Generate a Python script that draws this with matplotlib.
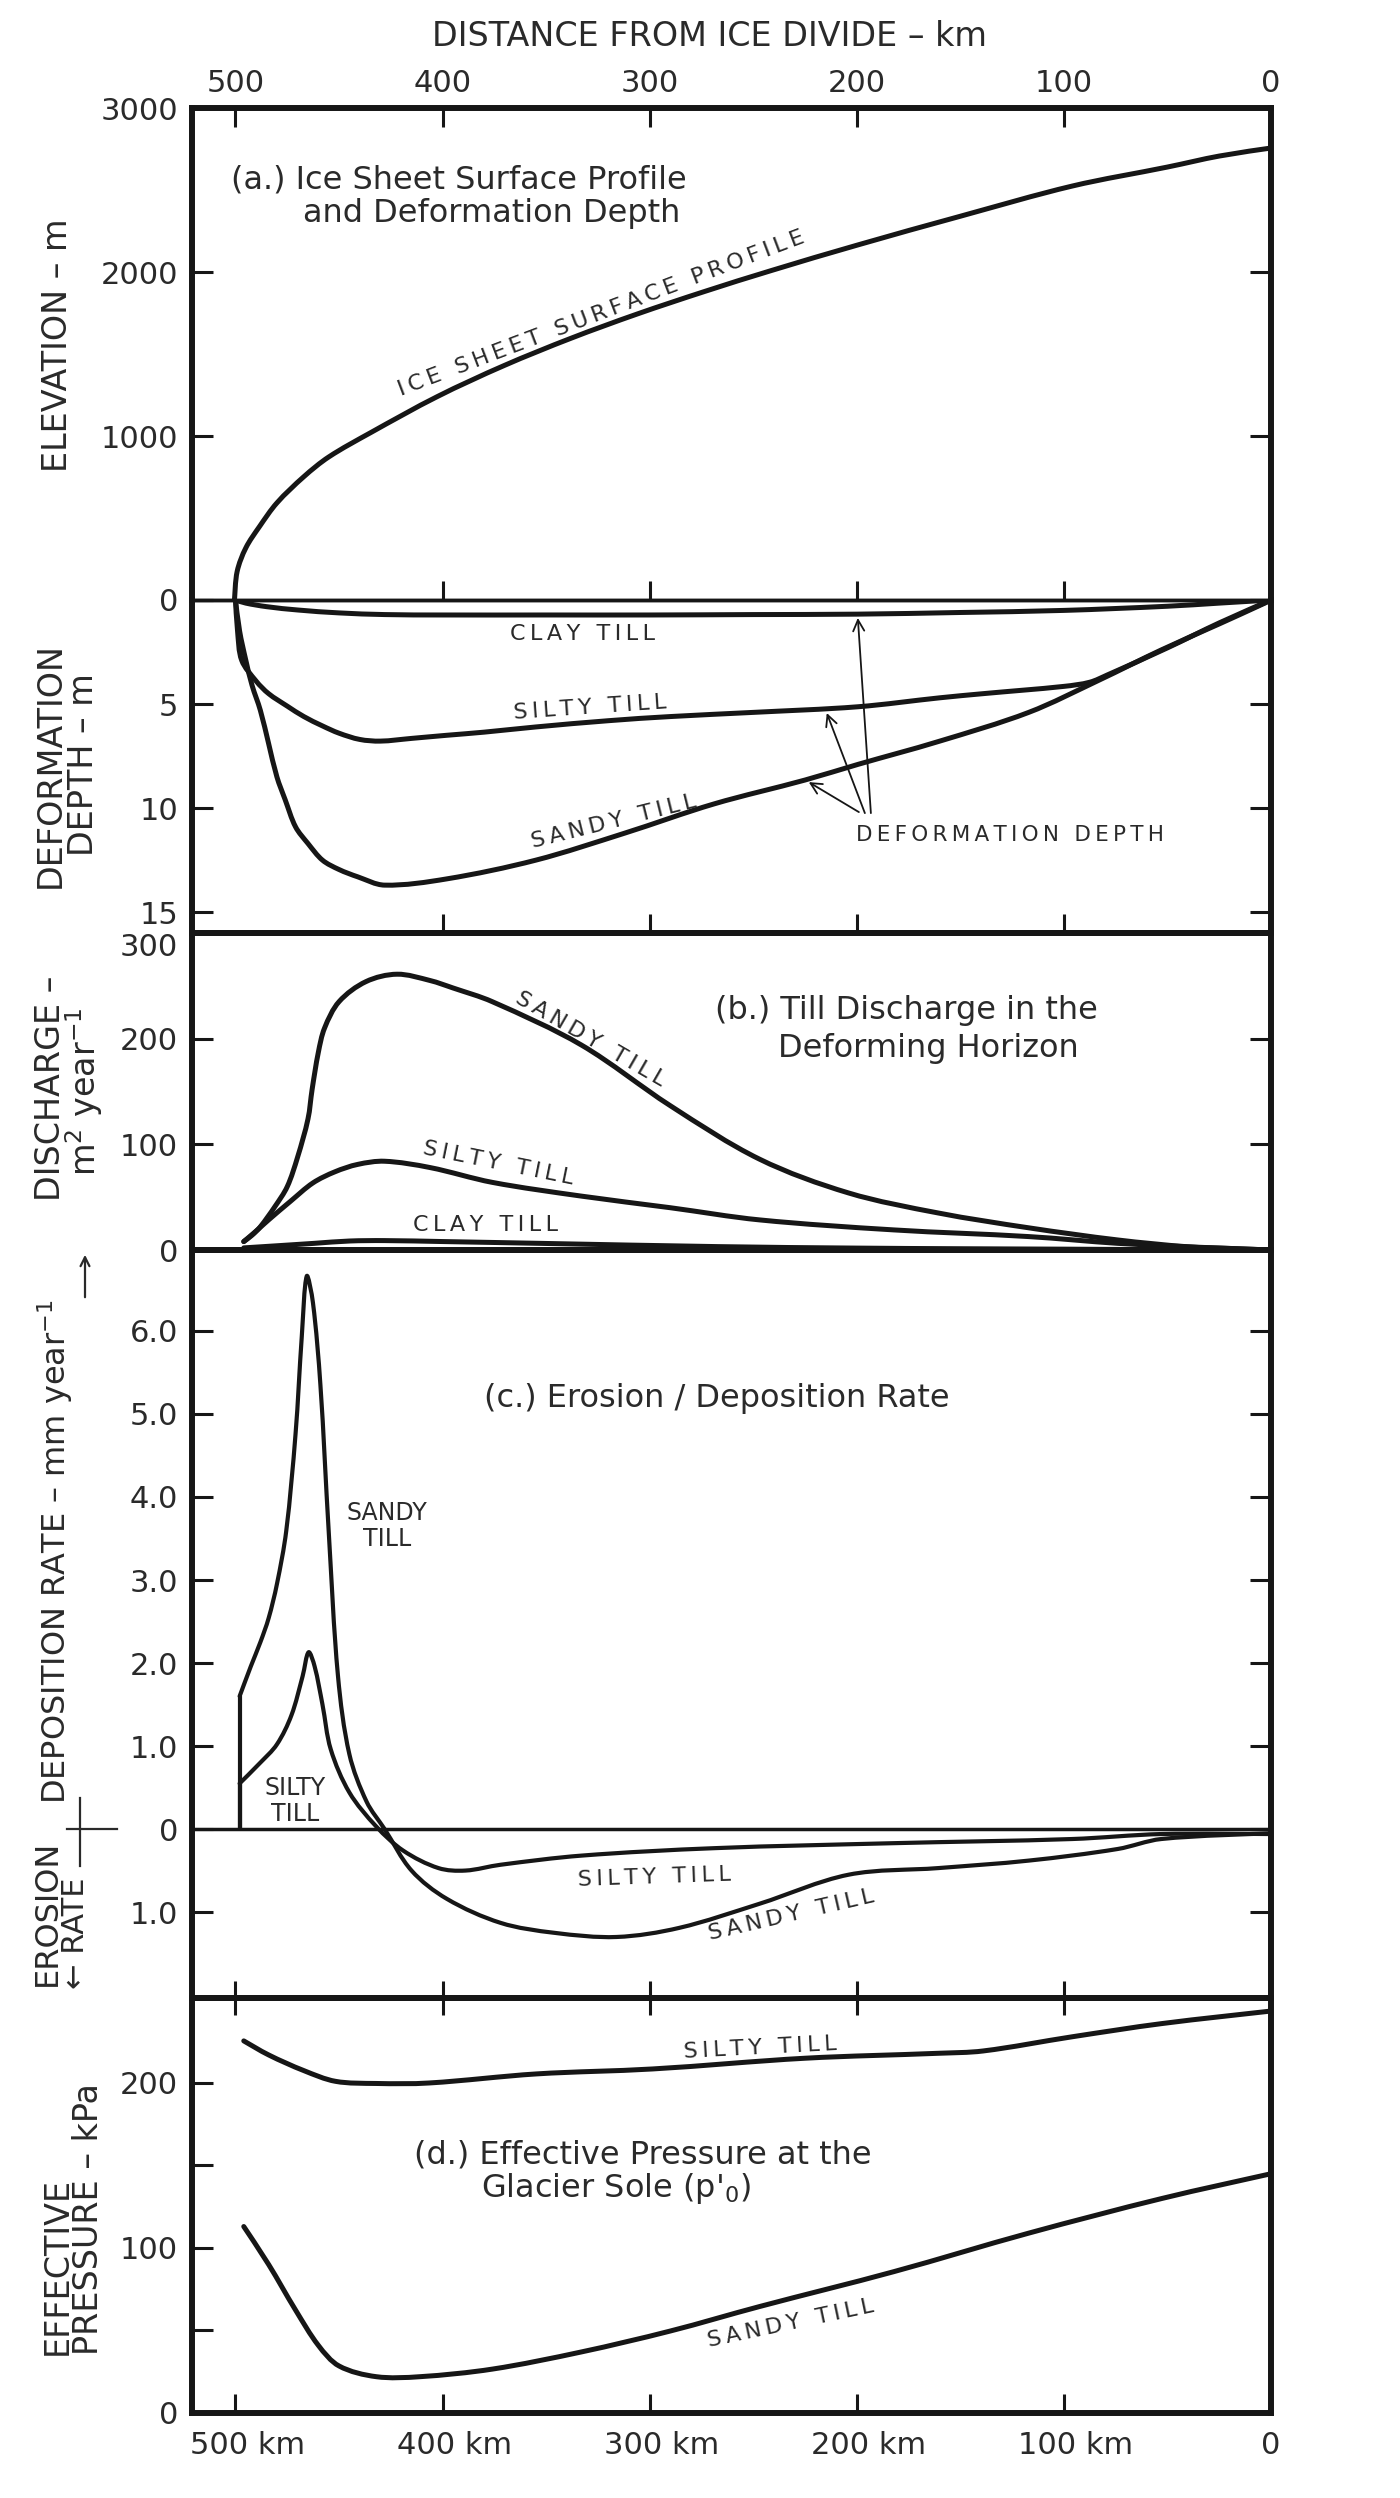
import matplotlib
matplotlib.use('Agg')
import matplotlib.pyplot as plt
from matplotlib.transforms import ScaledTranslation
from matplotlib.lines import Line2D
from matplotlib.patches import FancyArrowPatch, PathPatch
from matplotlib.path import Path

plt.rcParams['font.family'] = ['DejaVu Sans']
plt.rcParams['mathtext.default'] = 'regular'

W, H, DPI = 1400, 2498, 100

# ---------------- data ----------------
# (a) ice sheet surface profile (km from divide, elevation m)
profile_km = [0, 25, 50, 96, 150, 199.5, 241.5, 273.8, 306, 338, 370.4, 402.6, 434.8, 455, 467, 480, 488.4, 495, 499.2, 500.5]
profile_elev = [2756, 2707, 2640, 2524, 2340, 2165, 2008, 1880, 1744, 1596, 1429, 1240, 1020, 872, 752, 592, 448, 318, 174, 0]

# (a) deformation depth (m)
clay_depth_km = [0, 25, 50, 100, 150, 200, 250, 300, 350, 400, 428, 450, 470, 485, 495, 500]
clay_depth = [0, 0.15, 0.3, 0.5, 0.6, 0.68, 0.7, 0.72, 0.72, 0.72, 0.7, 0.62, 0.48, 0.32, 0.15, 0]
silty_depth_km = [0, 25, 50, 79, 87.5, 100, 139, 160, 199.5, 250, 290, 320, 355, 380, 398, 415, 430, 440, 450, 458, 467, 475, 484, 490, 497, 499, 500]
silty_depth = [0, 1.1, 2.3, 3.6, 3.95, 4.15, 4.5, 4.7, 5.13, 5.4, 5.6, 5.8, 6.1, 6.35, 6.5, 6.65, 6.78, 6.7, 6.4, 6.05, 5.6, 5.1, 4.5, 3.9, 2.9, 1.5, 0]
sandy_depth_km = [0, 3, 25, 53, 83, 117, 160.6, 199.5, 225, 269, 312, 355, 398, 428, 441, 450, 458, 465, 471, 476, 480, 484, 488, 492, 495, 498, 500]
sandy_depth = [0, 0.15, 1.15, 2.4, 3.85, 5.4, 6.8, 7.9, 8.65, 9.8, 11.2, 12.5, 13.4, 13.7, 13.3, 12.95, 12.5, 11.7, 10.9, 9.6, 8.5, 6.9, 5.3, 4.1, 2.9, 1.5, 0]

# (b) till discharge (m2 / year)
sandy_q_km = [0, 20, 40, 74, 117, 160.6, 204, 247, 290, 333, 376, 395, 406, 422, 437, 450, 457, 460, 463, 465, 470, 475, 481, 488, 492, 496]
sandy_q = [0, 1.5, 3, 9.5, 21, 35, 54, 86, 136.5, 194, 235, 248, 255, 261, 254, 235, 210, 187, 152, 124, 88, 60, 41, 22, 14, 8]
silty_q_km = [0, 40, 74, 117, 182, 247, 290, 333, 376, 406, 428, 441, 452, 462.6, 473.5, 484, 490, 496]
silty_q = [0, 3, 6.3, 12.7, 19, 28.5, 40, 51, 64, 78, 84, 81, 74, 63.5, 46, 28.5, 18, 8]
clay_q_km = [0, 50, 100, 150, 200, 267, 353, 400, 428, 445, 462, 480, 496]
clay_q = [0, 0.3, 0.8, 1.2, 1.8, 3.2, 6.3, 8, 8.9, 8.5, 6.3, 4, 2]

# (c) erosion (-) / deposition (+) rate (mm / year)
sandy_rate_km = [0, 53, 74, 117, 160.6, 204, 247, 285.7, 316, 346, 372, 398, 415, 428, 436.7, 445, 450.5, 455, 459, 462.6, 465.6, 468, 471, 475.5, 480, 484, 488, 492.6, 498, 498]
sandy_rate = [-0.05, -0.12, -0.24, -0.38, -0.47, -0.55, -0.9, -1.19, -1.30, -1.25, -1.13, -0.84, -0.5, 0, 0.33, 0.9, 1.84, 3.59, 5.35, 6.34, 6.66, 5.93, 4.76, 3.59, 2.95, 2.54, 2.25, 1.96, 1.6, 0]
silty_rate_km = [0, 53, 96, 182, 268.6, 333, 372, 389, 402, 419, 432, 445, 454, 458, 461.8, 464.7, 467.6, 473, 480, 488.4, 498, 498]
silty_rate = [-0.06, -0.06, -0.12, -0.17, -0.23, -0.32, -0.43, -0.5, -0.47, -0.26, 0.03, 0.44, 0.96, 1.5, 1.96, 2.13, 1.84, 1.37, 1.02, 0.79, 0.55, 0]

# (d) effective pressure (kPa)
silty_p_km = [0, 52.7, 96, 139, 160.6, 225, 298.6, 354.6, 406.5, 432, 451.7, 467, 484, 496]
silty_p = [243.6, 236, 228, 219.4, 218, 215, 208.5, 205.5, 200, 199.7, 201, 207.5, 217, 225.5]
sandy_p_km = [0, 52.7, 117, 182, 247, 290, 333, 376, 411, 432, 450, 460, 471, 484, 496]
sandy_p = [145, 130, 109, 85.7, 64.5, 49.7, 37, 26.6, 22, 22, 28.5, 41, 62.4, 90, 113]

# ticks / labels
x_ticks = [500, 400, 300, 200, 100, 0]
top_labels = ['500', '400', '300', '200', '100', '0']
bottom_labels = ['500 km', '400 km', '300 km', '200 km', '100 km', '0']
elev_ticks = [0, 1000, 2000, 3000]
elev_labels = ['', '1000', '2000', '3000']
depth_ticks = [0, 5, 10, 15]
depth_labels = ['0', '5', '10', '15']
q_ticks = [0, 100, 200, 300]
q_labels = ['0', '100', '200', '']
rate_ticks = [-1, 0, 1, 2, 3, 4, 5, 6]
rate_labels = ['1.0', '0', '1.0', '2.0', '3.0', '4.0', '5.0', '6.0']
p_ticks = [0, 50, 100, 150, 200]
p_labels = ['0', '', '100', '', '200']

# ---------------- style ----------------
LC = '#161616'
TC = '#2a2a2a'
FRAME = 4.3
TICK_FS = 22
AX_FS = 24

fig = plt.figure(figsize=(W / DPI, H / DPI), dpi=DPI)
fig.patch.set_facecolor('white')

L, R = 192, 1271


def add_axes(top, bottom):
    ax = fig.add_axes([L / W, 1 - bottom / H, (R - L) / W, (bottom - top) / H])
    ax.set_facecolor('none')
    ax.set_xlim(521, 0)
    for s in ax.spines.values():
        s.set_linewidth(FRAME)
        s.set_color(LC)
    ax.tick_params(which='both', color=LC, width=2.2, labelsize=TICK_FS, labelcolor=TC)
    return ax


def ftext(px, py, s, **kw):
    kw.setdefault('color', TC)
    return fig.text(px / W, 1 - py / H, s, **kw)


def spaced(s):
    return '\u2009'.join(list(s))


def smooth_line(ax, xs, ys, lw=3.6):
    """Draw a smooth curve through the given points (Catmull-Rom as Bezier path)."""
    xs = list(xs)
    ys = list(ys)
    tail = None
    if len(xs) > 2 and xs[-1] == xs[-2]:
        tail = ([xs[-2], xs[-1]], [ys[-2], ys[-1]])
        xs, ys = xs[:-1], ys[:-1]
    pix = ax.transData.transform(list(zip(xs, ys)))
    n = len(xs)

    def dist(i, j):
        return max(((pix[i][0] - pix[j][0]) ** 2 + (pix[i][1] - pix[j][1]) ** 2) ** 0.5, 1e-6)

    verts = [(xs[0], ys[0])]
    codes = [Path.MOVETO]
    for i in range(n - 1):
        i0 = max(i - 1, 0)
        i3 = min(i + 2, n - 1)
        d12 = dist(i, i + 1)
        d01 = dist(i0, i) if i0 != i else d12
        d23 = dist(i + 1, i3) if i3 != i + 1 else d12
        k1 = d12 / (3 * (d01 + d12))
        k2 = d12 / (3 * (d12 + d23))
        c1 = (xs[i] + (xs[i + 1] - xs[i0]) * k1, ys[i] + (ys[i + 1] - ys[i0]) * k1)
        c2 = (xs[i + 1] - (xs[i3] - xs[i]) * k2, ys[i + 1] - (ys[i3] - ys[i]) * k2)
        verts += [c1, c2, (xs[i + 1], ys[i + 1])]
        codes += [Path.CURVE4] * 3
    ax.add_patch(PathPatch(Path(verts, codes), fill=False, edgecolor=LC, lw=lw,
                           joinstyle='round', capstyle='round'))
    if tail is not None:
        ax.plot(tail[0], tail[1], color=LC, lw=lw, solid_capstyle='butt')


ax_e = add_axes(108, 600)
ax_dd = add_axes(600, 933)
ax_b = add_axes(933, 1250)
ax_c = add_axes(1250, 1998)
ax_d = add_axes(1998, 2413)

ax_e.spines['bottom'].set_linewidth(2.5)
ax_dd.spines['top'].set_linewidth(2.5)

ax_e.set_ylim(0, 3000)
ax_dd.set_ylim(16, 0)
ax_b.set_ylim(0, 300)
ax_c.set_ylim(-2.035, 6.975)
ax_d.set_ylim(0, 251.5)

# ---- (a) elevation ----
ax_e.set_xticks(x_ticks, top_labels)
ax_e.tick_params(axis='x', top=True, bottom=True, labeltop=True, labelbottom=False,
                 direction='in', length=14, pad=7)
ax_e.set_yticks(elev_ticks, elev_labels)
ax_e.tick_params(axis='y', left=True, right=True, direction='in', length=15, pad=10)
smooth_line(ax_e, profile_km, profile_elev)
ax_e.text(502.4, 2512, '(a.) Ice Sheet Surface Profile', ha='left', va='baseline', fontsize=23, color=TC)
ax_e.text(467.6, 2305, 'and Deformation Depth', ha='left', va='baseline', fontsize=23, color=TC)
ax_e.text(323.3, 1745, spaced('ICE SHEET SURFACE PROFILE'), rotation=20.8, rotation_mode='anchor',
          ha='center', va='center', fontsize=16, color=TC)

# ---- (a) deformation depth ----
ax_dd.set_xticks([400, 300, 200, 100], [])
ax_dd.tick_params(axis='x', top=False, bottom=True, direction='in', length=14)
ax_dd.set_yticks(depth_ticks, depth_labels)
ax_dd.tick_params(axis='y', left=True, right=True, direction='in', length=15, pad=10)
for xs, ys in [(clay_depth_km, clay_depth), (silty_depth_km, silty_depth), (sandy_depth_km, sandy_depth)]:
    smooth_line(ax_dd, xs, ys)
ax_dd.text(332.4, 1.63, spaced('CLAY TILL'), ha='center', va='center', fontsize=16, color=TC)
ax_dd.text(329, 5.19, spaced('SILTY TILL'), rotation=4, ha='center', va='center', fontsize=16, color=TC)
ax_dd.text(317.4, 10.67, spaced('SANDY TILL'), rotation=14, ha='center', va='center', fontsize=16, color=TC)
ax_dd.text(126, 11.3, spaced('DEFORMATION DEPTH'), ha='center', va='center', fontsize=15.5, color=TC)
for tail, head in [((193.2, 10.24), (199.5, 0.86)), ((196.1, 10.24), (214.5, 5.43)), ((199.0, 10.19), (223.2, 8.75))]:
    ax_dd.annotate('', xy=head, xytext=tail,
                   arrowprops=dict(arrowstyle='->', color=LC, lw=1.3, shrinkA=0, shrinkB=0, mutation_scale=20))

# ---- (b) discharge ----
ax_b.set_xticks([])
ax_b.set_yticks(q_ticks, q_labels)
ax_b.tick_params(axis='y', left=True, right=True, direction='in', length=15, pad=10)
for xs, ys in [(sandy_q_km, sandy_q), (silty_q_km, silty_q), (clay_q_km, clay_q)]:
    smooth_line(ax_b, xs, ys)
ax_b.text(268.6, 219, '(b.) Till Discharge in the', ha='left', va='baseline', fontsize=23, color=TC)
ax_b.text(238.2, 182.9, 'Deforming Horizon', ha='left', va='baseline', fontsize=23, color=TC)
ax_b.text(328.5, 200, spaced('SANDY TILL'), rotation=-30, ha='center', va='center', fontsize=16, color=TC)
ax_b.text(373, 82.4, spaced('SILTY TILL'), rotation=-11.5, ha='center', va='center', fontsize=16, color=TC)
ax_b.text(379.2, 23.8, spaced('CLAY TILL'), ha='center', va='center', fontsize=16, color=TC)
ftext(178, 947, '300', ha='right', va='center', fontsize=TICK_FS)

# ---- (c) erosion / deposition ----
ax_c.set_xticks([500, 400, 300, 200, 100], [])
ax_c.tick_params(axis='x', top=False, bottom=True, direction='inout', length=24)
ax_c.set_yticks(rate_ticks, rate_labels)
ax_c.tick_params(axis='y', left=True, right=True, direction='in', length=15, pad=10)
ax_c.axhline(0, color=LC, lw=2.5)
smooth_line(ax_c, sandy_rate_km, sandy_rate, lw=3.0)
smooth_line(ax_c, silty_rate_km, silty_rate, lw=3.0)
ax_c.text(267.6, 5.08, '(c.) Erosion / Deposition Rate', ha='center', va='baseline', fontsize=23, color=TC)
ax_c.text(427, 3.65, 'SANDY\nTILL', ha='center', va='center', fontsize=17, linespacing=1.1, color=TC)
ax_c.text(471, 0.34, 'SILTY\nTILL', ha='center', va='center', fontsize=17, linespacing=1.1, color=TC)
ax_c.text(297.6, -0.58, spaced('SILTY TILL'), rotation=2, ha='center', va='center', fontsize=16, color=TC)
ax_c.text(231.9, -1.04, spaced('SANDY TILL'), rotation=13, ha='center', va='center', fontsize=16, color=TC)

# ---- (d) effective pressure ----
ax_d.set_xticks(x_ticks, bottom_labels)
ax_d.tick_params(axis='x', top=False, bottom=True, direction='in', length=14, pad=13)
ax_d.set_yticks(p_ticks, p_labels)
ax_d.tick_params(axis='y', left=True, right=False, direction='in', length=15, pad=10)
smooth_line(ax_d, silty_p_km, silty_p)
smooth_line(ax_d, sandy_p_km, sandy_p)
ax_d.text(246.9, 221.2, spaced('SILTY TILL'), rotation=3, ha='center', va='center', fontsize=16, color=TC)
ax_d.text(414, 151.5, '(d.) Effective Pressure at the', ha='left', va='baseline', fontsize=23, color=TC)
ax_d.text(381.6, 131, r"Glacier Sole (p'$_{0}$)", ha='left', va='baseline', fontsize=23, color=TC)
ax_d.text(231.9, 54.2, spaced('SANDY TILL'), rotation=12, ha='center', va='center', fontsize=16, color=TC)
for lab in ax_d.get_xticklabels()[:-1]:
    lab.set_transform(lab.get_transform() + ScaledTranslation(12 / DPI, 0, fig.dpi_scale_trans))

# ---------------- axis titles ----------------
ftext(710, 36, 'DISTANCE FROM ICE DIVIDE – km', ha='center', va='center', fontsize=24)

rot = dict(rotation=90, rotation_mode='anchor', va='baseline')
ftext(67, 345, 'ELEVATION – m', ha='center', fontsize=AX_FS, **rot)
ftext(60, 765, 'DEFORMATION', ha='center', fontsize=AX_FS, **rot)
ftext(93, 765, 'DEPTH – m', ha='center', fontsize=AX_FS, **rot)
ftext(60, 1088, 'DISCHARGE –', ha='center', fontsize=AX_FS, **rot)
ftext(96, 1092, r'm$^{2}$ year$^{-1}$', ha='center', fontsize=AX_FS, **rot)
ftext(66, 1552, r'DEPOSITION RATE – mm year$^{-1}$', ha='center', fontsize=23, **rot)
ftext(56, 1913, 'EROSION', ha='center', fontsize=23, **rot)
ftext(84, 1933, '← RATE', ha='center', fontsize=22, **rot)
ftext(67, 2355, 'EFFECTIVE', ha='left', fontsize=AX_FS, **rot)
ftext(98, 2355, 'PRESSURE – kPa', ha='left', fontsize=AX_FS, **rot)

# up arrow for deposition and the zero marker
fig.add_artist(FancyArrowPatch((85 / W, 1 - 1300 / H), (85 / W, 1 - 1252 / H), transform=fig.transFigure,
                               arrowstyle='->', mutation_scale=16, lw=1.6, color=TC))
fig.add_artist(Line2D([67 / W, 117 / W], [1 - 1829 / H, 1 - 1829 / H], transform=fig.transFigure, color=TC, lw=1.6))
fig.add_artist(Line2D([80 / W, 80 / W], [1 - 1798 / H, 1 - 1866 / H], transform=fig.transFigure, color=TC, lw=1.6))

fig.savefig('out.png', dpi=DPI, facecolor='white')
